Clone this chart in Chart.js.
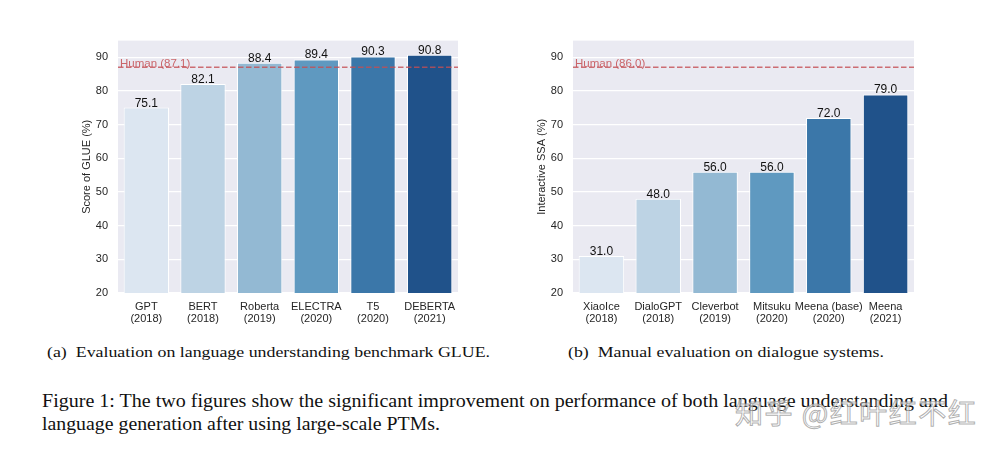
<!DOCTYPE html>
<html>
<head>
<meta charset="utf-8">
<script src="https://cdn.jsdelivr.net/npm/chart.js@4.4.1/dist/chart.umd.min.js"></script>
<style>
  html, body { margin: 0; padding: 0; background: #fff; }
  body { position: relative; width: 1003px; height: 458px; overflow: hidden; }
  .box { position: absolute; top: 24px; width: 430px; height: 316px; }
  .cap {
    position: absolute;
    font-family: "Liberation Serif", "DejaVu Serif", serif;
    color: #111;
    white-space: nowrap;
    transform-origin: 0 0;
  }
  .mark {
    position: absolute;
    left: 735px;
    top: 392px;
    font-family: "Noto Sans CJK SC", sans-serif;
    font-size: 28px;
    color: rgba(255, 255, 255, 0.55);
    -webkit-text-stroke: 1px rgba(150, 150, 150, 0.75);
    white-space: nowrap;
    letter-spacing: 1.5px;
  }
</style>
</head>
<body>
<div class="box" style="left:40px"><canvas id="glue"></canvas></div>
<div class="box" style="left:495px"><canvas id="dialog"></canvas></div>

<div class="cap" id="capA" data-w="443" style="left:47px;top:343px;font-size:15.5px">(a)&nbsp; Evaluation on language understanding benchmark GLUE.</div>
<div class="cap" id="capB" data-w="316" style="left:568px;top:343px;font-size:15.5px">(b)&nbsp; Manual evaluation on dialogue systems.</div>
<div class="cap" id="fig1" data-w="906" style="left:42px;top:391px;font-size:18.5px">Figure 1: The two figures show the significant improvement on performance of both language understanding and</div>
<div class="cap" id="fig2" data-w="398" style="left:42px;top:414px;font-size:18.5px">language generation after using large-scale PTMs.</div>
<div class="mark">知乎 @红叶红不红</div>

<script>
// seaborn "Blues", desaturated
const BLUES = ["#dce6f1", "#bdd3e4", "#93b9d3", "#5f99c0", "#3b77a9", "#20528a"];

const glueNames = ["GPT", "BERT", "Roberta", "ELECTRA", "T5", "DEBERTA"];
const glueYears = ["(2018)", "(2018)", "(2019)", "(2020)", "(2020)", "(2021)"];
const glueScores = [75.1, 82.1, 88.4, 89.4, 90.3, 90.8];
const glueHumanLabel = 87.1;
const glueHumanLine = 87.1;

const dialogNames = ["XiaoIce", "DialoGPT", "Cleverbot", "Mitsuku", "Meena (base)", "Meena"];
const dialogYears = ["(2018)", "(2018)", "(2019)", "(2020)", "(2020)", "(2021)"];
const dialogScores = [31.0, 48.0, 56.0, 56.0, 72.0, 79.0];
const dialogHumanLabel = 86.0;
// the dashed line sits at the same height as in the left panel
const dialogHumanLine = 87.1;

const yTicks = [20, 30, 40, 50, 60, 70, 80, 90];
const Y_MIN = 20;
const Y_MAX = 95;

const SANS = '"Liberation Sans", Arial, sans-serif';
const TICK_COLOR = "#262626";

// grey plot background, like seaborn darkgrid
const darkgridPlugin = {
  id: "darkgrid",
  beforeDraw(chart) {
    const { ctx, chartArea: a } = chart;
    ctx.save();
    ctx.fillStyle = "#eaeaf2";
    ctx.fillRect(a.left, a.top, a.right - a.left, a.bottom - a.top);
    ctx.restore();
  },
};

// numbers written above each bar
const barLabelsPlugin = {
  id: "barLabels",
  afterDatasetsDraw(chart) {
    const { ctx } = chart;
    const meta = chart.getDatasetMeta(0);
    const values = chart.data.datasets[0].data;
    ctx.save();
    ctx.font = "12px " + SANS;
    ctx.fillStyle = "#111";
    ctx.textAlign = "center";
    ctx.textBaseline = "alphabetic";
    meta.data.forEach((bar, i) => {
      ctx.fillText(values[i].toFixed(1), bar.x, bar.y - 1);
    });
    ctx.restore();
  },
};

// dashed "Human" reference line
const humanLinePlugin = {
  id: "humanLine",
  afterDatasetsDraw(chart, args, opts) {
    const { ctx, chartArea: a } = chart;
    const y = chart.scales.y.getPixelForValue(opts.value);
    ctx.save();
    ctx.strokeStyle = "rgba(196, 78, 82, 0.8)";
    ctx.lineWidth = 1.5;
    ctx.setLineDash([5.5, 2.5]);
    ctx.beginPath();
    ctx.moveTo(a.left, y);
    ctx.lineTo(a.right, y);
    ctx.stroke();
    ctx.setLineDash([]);
    ctx.font = "11.5px " + SANS;
    ctx.fillStyle = "rgba(196, 78, 82, 0.85)";
    ctx.textAlign = "left";
    ctx.textBaseline = "alphabetic";
    ctx.fillText("Human (" + opts.label.toFixed(1) + ")", a.left + 2, y);
    ctx.restore();
  },
};

function makeChart(id, names, years, scores, yTitle, humanLine, humanLabel, padRight) {
  const labels = names.map((n, i) => [n, years[i]]);
  return new Chart(document.getElementById(id), {
    type: "bar",
    data: {
      labels,
      datasets: [
        {
          data: scores,
          backgroundColor: BLUES,
          borderColor: "#ffffff",
          borderWidth: 1,
          borderSkipped: false,
          barPercentage: 0.8,
          categoryPercentage: 1.0,
        },
      ],
    },
    plugins: [darkgridPlugin, barLabelsPlugin, humanLinePlugin],
    options: {
      responsive: true,
      maintainAspectRatio: false,
      animation: false,
      layout: { padding: { left: 36, right: padRight, top: 3, bottom: 0 } },
      plugins: {
        legend: { display: false },
        tooltip: { enabled: false },
        humanLine: { value: humanLine, label: humanLabel },
      },
      scales: {
        x: {
          grid: { display: false, drawTicks: false },
          border: { display: false },
          ticks: {
            color: TICK_COLOR,
            font: { family: SANS, size: 11, lineHeight: 1.1 },
            padding: 8,
            maxRotation: 0,
            autoSkip: false,
          },
          afterFit(scale) {
            scale.height = 47;
          },
        },
        y: {
          min: Y_MIN,
          max: Y_MAX,
          grid: { color: "#ffffff", lineWidth: 1.2, drawTicks: false },
          border: { display: false },
          ticks: {
            stepSize: 10,
            color: TICK_COLOR,
            font: { family: SANS, size: 11 },
            padding: 10,
          },
          afterBuildTicks(scale) {
            scale.ticks = yTicks.map((v) => ({ value: v }));
          },
          title: {
            display: true,
            text: yTitle,
            color: TICK_COLOR,
            font: { family: SANS, size: 11 },
            padding: { top: 4, bottom: 0 },
          },
          afterFit(scale) {
            scale.width = 42;
          },
        },
      },
    },
  });
}

makeChart("glue", glueNames, glueYears, glueScores, "Score of GLUE (%)", glueHumanLine, glueHumanLabel, 12);
makeChart("dialog", dialogNames, dialogYears, dialogScores, "Interactive SSA (%)", dialogHumanLine, dialogHumanLabel, 11);

// squeeze each caption to the width it has in the figure
document.querySelectorAll(".cap").forEach((el) => {
  const target = parseFloat(el.dataset.w);
  const w = el.getBoundingClientRect().width;
  el.style.transform = "scaleX(" + (target / w) + ")";
});
</script>
</body>
</html>
